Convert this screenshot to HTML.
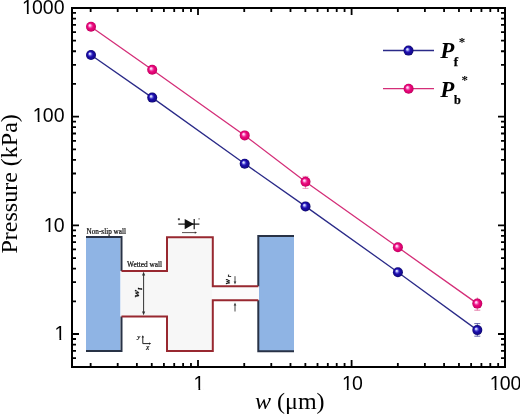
<!DOCTYPE html>
<html><head><meta charset="utf-8"><title>Pressure vs w</title>
<style>html,body{margin:0;padding:0;background:#fff;}svg{display:block;}</style></head>
<body>
<svg width="520" height="416" viewBox="0 0 520 416"><defs>
<radialGradient id="gp" cx="0.5" cy="0.5" r="0.5" fx="0.36" fy="0.35">
<stop offset="0" stop-color="#fff0fc"/><stop offset="0.18" stop-color="#ffb8e8"/><stop offset="0.36" stop-color="#f04aa8"/><stop offset="0.55" stop-color="#ea0a7c"/><stop offset="0.85" stop-color="#d8006c"/><stop offset="1" stop-color="#b40058"/></radialGradient>
<radialGradient id="gb" cx="0.5" cy="0.5" r="0.5" fx="0.36" fy="0.35">
<stop offset="0" stop-color="#eef0ff"/><stop offset="0.18" stop-color="#b8bcf8"/><stop offset="0.36" stop-color="#4a44d0"/><stop offset="0.55" stop-color="#1c0ca8"/><stop offset="0.85" stop-color="#140a90"/><stop offset="1" stop-color="#0c0860"/></radialGradient>
</defs><rect x="121" y="271" width="47" height="45.5" fill="#f7f7f7"/>
<rect x="167" y="237" width="46" height="114" fill="#f7f7f7"/>
<rect x="212" y="286.3" width="47.5" height="14" fill="#fbfbfb"/>
<rect x="86" y="237" width="34.3" height="114" fill="#8fb4e4"/>
<rect x="259" y="236" width="35" height="115.5" fill="#8fb4e4"/>
<path d="M86,237H121.5V271M121.5,316.5V351H86" stroke="#283246" stroke-width="2" fill="none"/>
<path d="M294,236H258.3V286.3M258.3,300.3V351.2H294" stroke="#283246" stroke-width="2" fill="none"/>
<path d="M121.5,271H167V237.2H212.8V286.3H258.3M258.3,300.3H212.8V351H167V316.5H121.5" stroke="#982830" stroke-width="2" fill="none"/>
<text x="86.5" y="233.7" font-family="Liberation Serif, serif" fill="#111" stroke="#111" stroke-width="0.22" font-size="7.4" textLength="39.5" lengthAdjust="spacingAndGlyphs">Non-slip wall</text>
<text x="127.1" y="267.4" font-family="Liberation Serif, serif" fill="#111" stroke="#111" stroke-width="0.22" font-size="7.5" textLength="35" lengthAdjust="spacingAndGlyphs">Wetted wall</text>
<line x1="143.6" y1="274" x2="143.6" y2="313" stroke="#333" stroke-width="1"/>
<path d="M143.6,271.8l-1.6,3.8h3.2z M143.6,315.2l-1.6,-3.8h3.2z" fill="#333"/>
<text transform="translate(139.0,297.3) rotate(-90) scale(1.22,1)" font-family="Liberation Serif, serif" fill="#111" stroke="#111" stroke-width="0.22" font-size="9" font-weight="bold" font-style="italic">w<tspan font-size="6.5" dy="2.6" dx="0">l</tspan></text>
<text transform="translate(229.8,284.2) rotate(-90)" font-family="Liberation Serif, serif" fill="#111" stroke="#111" stroke-width="0.22" font-size="7.8" font-weight="bold" font-style="italic">w<tspan font-size="5.5" dy="1.3" dx="2.0">r</tspan></text>
<line x1="235" y1="276.2" x2="235" y2="282" stroke="#333" stroke-width="0.9"/>
<path d="M235,284.6l-1.3,-3h2.6z" fill="#333"/>
<line x1="235" y1="305" x2="235" y2="311.5" stroke="#333" stroke-width="0.9"/>
<path d="M235,302.4l-1.3,3h2.6z" fill="#333"/>
<line x1="178.3" y1="224.1" x2="199.4" y2="224.1" stroke="#111" stroke-width="1.2"/>
<path d="M184.7,218.9L193.9,224.1L184.7,229.2z" fill="#111"/>
<line x1="194.2" y1="218.9" x2="194.2" y2="229.3" stroke="#111" stroke-width="1.2"/>
<path d="M177.8,219.2h2.2M178.9,218.1v2.2" stroke="#222" stroke-width="0.9"/>
<path d="M198.3,218.9h1.6" stroke="#444" stroke-width="0.8"/>
<line x1="182" y1="232.6" x2="195.5" y2="232.6" stroke="#5a5050" stroke-width="1"/>
<path d="M197,232.6l-2.2,-1.2v2.4z" fill="#3a3030"/>
<path d="M142.8,336.3V343.6H150" stroke="#222" stroke-width="1" fill="none"/>
<path d="M151.2,343.6l-2.2,-1.2v2.4z M142.8,335.2l-1.2,2.2h2.4z" fill="#222"/>
<text x="137.2" y="339.4" font-family="Liberation Serif, serif" fill="#111" stroke="#111" stroke-width="0.22" font-size="6.8" font-style="italic">y</text>
<text x="146.1" y="350.4" font-family="Liberation Serif, serif" fill="#111" stroke="#111" stroke-width="0.22" font-size="7.2" font-style="italic">x</text>
<path d="M90.64,366.00v-3M90.64,9.00v3M117.69,366.00v-3M117.69,9.00v3M136.88,366.00v-3M136.88,9.00v3M151.76,366.00v-3M151.76,9.00v3M163.92,366.00v-3M163.92,9.00v3M174.21,366.00v-3M174.21,9.00v3M183.11,366.00v-3M183.11,9.00v3M190.97,366.00v-3M190.97,9.00v3M198.00,366.00v-6M198.00,9.00v6M244.24,366.00v-3M244.24,9.00v3M271.29,366.00v-3M271.29,9.00v3M290.48,366.00v-3M290.48,9.00v3M305.36,366.00v-3M305.36,9.00v3M317.52,366.00v-3M317.52,9.00v3M327.81,366.00v-3M327.81,9.00v3M336.71,366.00v-3M336.71,9.00v3M344.57,366.00v-3M344.57,9.00v3M351.60,366.00v-6M351.60,9.00v6M397.84,366.00v-3M397.84,9.00v3M424.89,366.00v-3M424.89,9.00v3M444.08,366.00v-3M444.08,9.00v3M458.96,366.00v-3M458.96,9.00v3M471.12,366.00v-3M471.12,9.00v3M481.41,366.00v-3M481.41,9.00v3M490.31,366.00v-3M490.31,9.00v3M498.17,366.00v-3M498.17,9.00v3M73.00,358.12h3M504.00,358.12h-3M73.00,350.84h3M504.00,350.84h-3M73.00,344.54h3M504.00,344.54h-3M73.00,338.98h3M504.00,338.98h-3M73.00,334.01h6M504.00,334.01h-6M73.00,301.30h3M504.00,301.30h-3M73.00,282.16h3M504.00,282.16h-3M73.00,268.58h3M504.00,268.58h-3M73.00,258.05h3M504.00,258.05h-3M73.00,249.45h3M504.00,249.45h-3M73.00,242.17h3M504.00,242.17h-3M73.00,235.87h3M504.00,235.87h-3M73.00,230.31h3M504.00,230.31h-3M73.00,225.34h6M504.00,225.34h-6M73.00,192.63h3M504.00,192.63h-3M73.00,173.49h3M504.00,173.49h-3M73.00,159.91h3M504.00,159.91h-3M73.00,149.38h3M504.00,149.38h-3M73.00,140.78h3M504.00,140.78h-3M73.00,133.50h3M504.00,133.50h-3M73.00,127.20h3M504.00,127.20h-3M73.00,121.64h3M504.00,121.64h-3M73.00,116.67h6M504.00,116.67h-6M73.00,83.96h3M504.00,83.96h-3M73.00,64.82h3M504.00,64.82h-3M73.00,51.24h3M504.00,51.24h-3M73.00,40.71h3M504.00,40.71h-3M73.00,32.11h3M504.00,32.11h-3M73.00,24.83h3M504.00,24.83h-3M73.00,18.53h3M504.00,18.53h-3M73.00,12.97h3M504.00,12.97h-3" stroke="#000" stroke-width="1.8" fill="none"/>
<rect x="72" y="8" width="433" height="359" fill="none" stroke="#000" stroke-width="2"/>
<text x="22.02" y="13.80" font-family="Liberation Sans, Arial, sans-serif" font-size="19.5">1<tspan x="31.97">000</tspan></text>
<text x="32.87" y="122.47" font-family="Liberation Sans, Arial, sans-serif" font-size="19.5">1<tspan x="42.81">00</tspan></text>
<text x="43.71" y="232.34" font-family="Liberation Sans, Arial, sans-serif" font-size="19.5">1<tspan x="53.66">0</tspan></text>
<text x="54.56" y="340.01" font-family="Liberation Sans, Arial, sans-serif" font-size="19.5">1</text>
<text x="193.58" y="390" font-family="Liberation Sans, Arial, sans-serif" font-size="19.5">1</text>
<text x="341.96" y="390" font-family="Liberation Sans, Arial, sans-serif" font-size="19.5">1<tspan x="351.90">0</tspan></text>
<text x="489.83" y="390" font-family="Liberation Sans, Arial, sans-serif" font-size="19.5">1<tspan x="499.78">00</tspan></text>
<path d="M22.97,11.95H26.90V14.50H22.97zM28.68,11.95H32.40V14.50H28.68zM33.82,119.95H37.74V122.50H33.82zM39.52,119.95H43.24V122.50H39.52zM44.66,229.95H48.59V232.50H44.66zM50.37,229.95H54.09V232.50H50.37zM55.51,337.95H59.43V340.50H55.51zM61.21,337.95H64.93V340.50H61.21zM194.53,387.95H198.45V390.50H194.53zM200.23,387.95H203.96V390.50H200.23zM342.91,387.95H346.83V390.50H342.91zM348.61,387.95H352.33V390.50H348.61zM490.78,387.95H494.71V390.50H490.78zM496.49,387.95H500.21V390.50H496.49z" fill="#fff"/>
<text transform="translate(17,253.5) rotate(-90)" font-family="Liberation Serif, Times New Roman, serif" font-size="24">Pressure (kPa)</text>
<text x="255" y="409.3" font-family="Liberation Serif, Times New Roman, serif" font-size="24"><tspan font-style="italic">w</tspan> (μm)</text>
<path d="M91,26.7 L152.2,69.8 L244.7,135.4 L305.5,181.8 L397.9,247.3 L477.3,303.6" stroke="#d42e78" stroke-width="1.3" fill="none"/>
<path d="M91,55 L152.2,97.6 L244.7,163.7 L305.5,206.4 L397.9,272.2 L477.3,330.1" stroke="#2a2a88" stroke-width="1.3" fill="none"/>
<path d="M302.5,176.4h6M302.5,188.4h6M305.5,176.4V188.4" stroke="#d42e78" stroke-width="0.9" fill="none" opacity="0.5"/>
<path d="M474.3,310.2h6M477.3,297.5V310.2" stroke="#d42e78" stroke-width="0.9" fill="none" opacity="0.7"/>
<path d="M474.3,323.6h6M474.3,336.2h6M477.3,323.6V336.2" stroke="#2a2a88" stroke-width="0.9" fill="none" opacity="0.8"/>
<circle cx="91" cy="26.7" r="5.0" fill="url(#gp)"/>
<circle cx="152.2" cy="69.8" r="5.0" fill="url(#gp)"/>
<circle cx="244.7" cy="135.4" r="5.0" fill="url(#gp)"/>
<circle cx="305.5" cy="181.8" r="5.0" fill="url(#gp)"/>
<circle cx="397.9" cy="247.3" r="5.0" fill="url(#gp)"/>
<circle cx="477.3" cy="303.6" r="5.0" fill="url(#gp)"/>
<circle cx="91" cy="55" r="5.0" fill="url(#gb)"/>
<circle cx="152.2" cy="97.6" r="5.0" fill="url(#gb)"/>
<circle cx="244.7" cy="163.7" r="5.0" fill="url(#gb)"/>
<circle cx="305.5" cy="206.4" r="5.0" fill="url(#gb)"/>
<circle cx="397.9" cy="272.2" r="5.0" fill="url(#gb)"/>
<circle cx="477.3" cy="330.1" r="5.0" fill="url(#gb)"/>
<line x1="383" y1="50.5" x2="434" y2="50.5" stroke="#2a2a88" stroke-width="1.3"/>
<circle cx="408.5" cy="50.6" r="5.0" fill="url(#gb)"/>
<line x1="383" y1="88.6" x2="434" y2="88.6" stroke="#d42e78" stroke-width="1.3"/>
<circle cx="408.6" cy="88.7" r="5.0" fill="url(#gp)"/>
<text x="440.2" y="58.3" font-family="Liberation Serif, Times New Roman, serif" font-weight="bold" font-size="23" font-style="italic">P</text>
<text x="453.8" y="66" font-family="Liberation Serif, Times New Roman, serif" font-weight="bold" font-size="13" stroke="#000" stroke-width="0.25">f</text>
<text x="458.8" y="45.6" font-family="Liberation Serif, Times New Roman, serif" font-weight="bold" font-size="13">*</text>
<text x="440.2" y="96.8" font-family="Liberation Serif, Times New Roman, serif" font-weight="bold" font-size="23" font-style="italic">P</text>
<text x="454.1" y="104.3" font-family="Liberation Serif, Times New Roman, serif" font-weight="bold" font-size="12.3" stroke="#000" stroke-width="0.25">b</text>
<text x="461.6" y="84.1" font-family="Liberation Serif, Times New Roman, serif" font-weight="bold" font-size="13">*</text></svg>
</body></html>
